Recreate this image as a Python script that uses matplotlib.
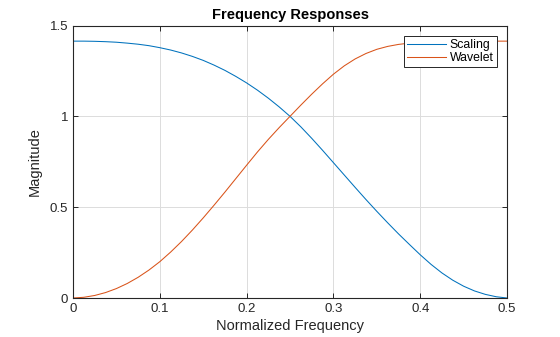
import numpy as np
import matplotlib.pyplot as plt

plt.rcParams['font.family'] = ['Liberation Sans', 'DejaVu Sans']

# values
freq = [0.0, 0.0125, 0.025, 0.0375, 0.05, 0.0625, 0.075, 0.0875, 0.1, 0.1125,
        0.125, 0.1375, 0.15, 0.1625, 0.175, 0.1875, 0.2, 0.2125, 0.225, 0.2375,
        0.25, 0.2625, 0.275, 0.2875, 0.3, 0.3125, 0.325, 0.3375, 0.35, 0.3625,
        0.375, 0.3875, 0.4, 0.4125, 0.425, 0.4375, 0.45, 0.4625, 0.475, 0.4875, 0.5]
scaling = [1.414, 1.414, 1.413, 1.411, 1.408, 1.403, 1.397, 1.389, 1.378, 1.365,
           1.349, 1.330, 1.308, 1.282, 1.253, 1.220, 1.184, 1.144, 1.100, 1.052,
           1.000, 0.942, 0.879, 0.813, 0.745, 0.677, 0.609, 0.542, 0.477, 0.414,
           0.353, 0.295, 0.238, 0.185, 0.138, 0.098, 0.065, 0.039, 0.020, 0.007, 0.0]
wavelet = [0.0, 0.004, 0.014, 0.030, 0.052, 0.080, 0.114, 0.154, 0.200, 0.253,
           0.311, 0.374, 0.441, 0.511, 0.583, 0.657, 0.731, 0.804, 0.873, 0.938,
           1.000, 1.062, 1.122, 1.179, 1.232, 1.278, 1.316, 1.346, 1.369, 1.385,
           1.396, 1.403, 1.407, 1.410, 1.412, 1.413, 1.414, 1.414, 1.414, 1.414, 1.414]
xticks = [0, 0.1, 0.2, 0.3, 0.4, 0.5]
xticklabels = ['0', '0.1', '0.2', '0.3', '0.4', '0.5']
yticks = [0, 0.5, 1, 1.5]
yticklabels = ['0', '0.5', '1', '1.5']

fig = plt.figure(figsize=(5.6, 3.37), dpi=100)
ax = fig.add_axes([0.1304, 0.1157, 0.775, 0.8086])

ax.plot(freq, scaling, color='#0072BD', lw=0.75, label='Scaling')
ax.plot(freq, wavelet, color='#D95319', lw=0.75, label='Wavelet')

ax.set_xlim(0, 0.5)
ax.set_ylim(0, 1.5)
ax.set_xticks(xticks)
ax.set_xticklabels(xticklabels)
ax.set_yticks(yticks)
ax.set_yticklabels(yticklabels)
ax.grid(True, color='#dcdcdc', lw=0.7)
ax.set_axisbelow(True)
ax.tick_params(direction='in', length=3.5, width=0.7, colors='#262626',
               labelsize=9.5, top=True, right=True, labelcolor='#262626')
for sp in ax.spines.values():
    sp.set_color('#262626')
    sp.set_linewidth(0.8)

ax.set_title('Frequency Responses', fontsize=10.5, fontweight='bold', color='black', pad=5)
ax.set_xlabel('Normalized Frequency', fontsize=10.5, color='#262626', labelpad=3)
ax.set_ylabel('Magnitude', fontsize=10.5, color='#262626', labelpad=6)

leg = ax.legend(loc='upper right', fontsize=8.8, fancybox=False, framealpha=1,
                edgecolor='#262626', borderpad=0.25, handlelength=3.2,
                handletextpad=0.3, labelspacing=0.1, borderaxespad=0.85)
leg.get_frame().set_linewidth(0.7)

fig.savefig('out.png', dpi=100)
